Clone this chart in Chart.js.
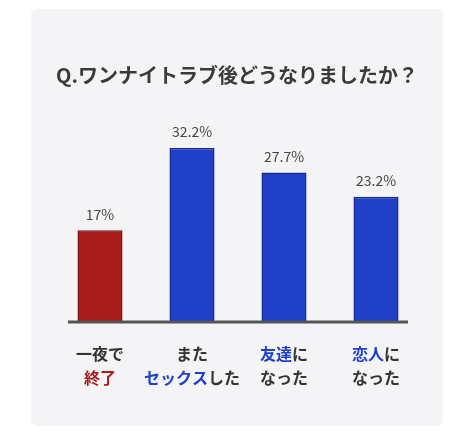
<!DOCTYPE html>
<html><head><meta charset="utf-8">
<script src="https://cdn.jsdelivr.net/npm/chart.js@4"></script>
<style>html,body{margin:0;padding:0;background:#fff}#c{display:block}</style>
</head><body>
<div style="width:474px;height:436px"><canvas id="c" width="474" height="436"></canvas></div>
<script>
const categories = ["一夜で終了", "またセックスした", "友達になった", "恋人になった"];
const values = [17, 32.2, 27.7, 23.2];
const valueLabels = ["17%", "32.2%", "27.7%", "23.2%"];
const labelLines = [
  [[["一夜で","#333"]], [["終了","#a81c1c"]]],
  [[["また","#333"]], [["セックス","#1f3fc4"],["した","#333"]]],
  [[["友達","#1f3fc4"],["に","#333"]], [["なった","#333"]]],
  [[["恋人","#1f3fc4"],["に","#333"]], [["なった","#333"]]]
];
const barColors = ["#a81b1b", "#1e3fc6", "#1e3fc6", "#1e3fc6"];
const borderColors = ["#7a1010", "#122a8e", "#122a8e", "#122a8e"];
const FONT = '"Noto Sans CJK JP", "Noto Sans", sans-serif';

const deco = {
  id: 'deco',
  beforeDraw(chart) {
    const c = chart.ctx;
    c.save();
    c.fillStyle = '#f4f4f6';
    c.beginPath();
    c.roundRect(31, 9, 412, 417, 6);
    c.fill();
    c.fillStyle = '#3a3a3a';
    c.font = 'bold 20px ' + FONT;
    c.textAlign = 'center'; c.textBaseline = 'middle';
    c.fillText('Q.ワンナイトラブ後どうなりましたか？', 237, 75);
    c.restore();
  },
  afterDatasetsDraw(chart) {
    const c = chart.ctx, x = chart.scales.x, y = chart.scales.y;
    const meta = chart.getDatasetMeta(0);
    c.save();
    c.strokeStyle = '#555'; c.lineWidth = 3;
    c.beginPath();
    c.moveTo(x.getPixelForValue(0) - 32, y.getPixelForValue(0));
    c.lineTo(x.getPixelForValue(3) + 32, y.getPixelForValue(0));
    c.stroke();
    c.textAlign = 'center'; c.textBaseline = 'middle';
    c.font = '14px ' + FONT; c.fillStyle = '#444';
    meta.data.forEach((b, i) => c.fillText(valueLabels[i], b.x, b.y - 16));
    c.font = 'bold 16px ' + FONT;
    labelLines.forEach((lines, i) => {
      const cx = x.getPixelForValue(i);
      lines.forEach((segs, li) => {
        const total = segs.reduce((s, g) => s + c.measureText(g[0]).width, 0);
        let sx = cx - total / 2;
        c.textAlign = 'left';
        segs.forEach(g => { c.fillStyle = g[1]; c.fillText(g[0], sx, 354 + li * 24); sx += c.measureText(g[0]).width; });
      });
    });
    c.restore();
  }
};

new Chart(document.getElementById('c'), {
  type: 'bar',
  data: { labels: categories, datasets: [{ data: values, backgroundColor: barColors, borderColor: borderColors, borderWidth: 1.5, categoryPercentage: 1, barPercentage: 0.49 }] },
  options: {
    responsive: false, animation: false,
    layout: { padding: { left: 54, right: 52, top: 106, bottom: 114 } },
    plugins: { legend: { display: false }, tooltip: { enabled: false } },
    scales: { x: { display: false }, y: { display: false, min: 0, max: 40 } }
  },
  plugins: [deco]
});
</script>
</body></html>
